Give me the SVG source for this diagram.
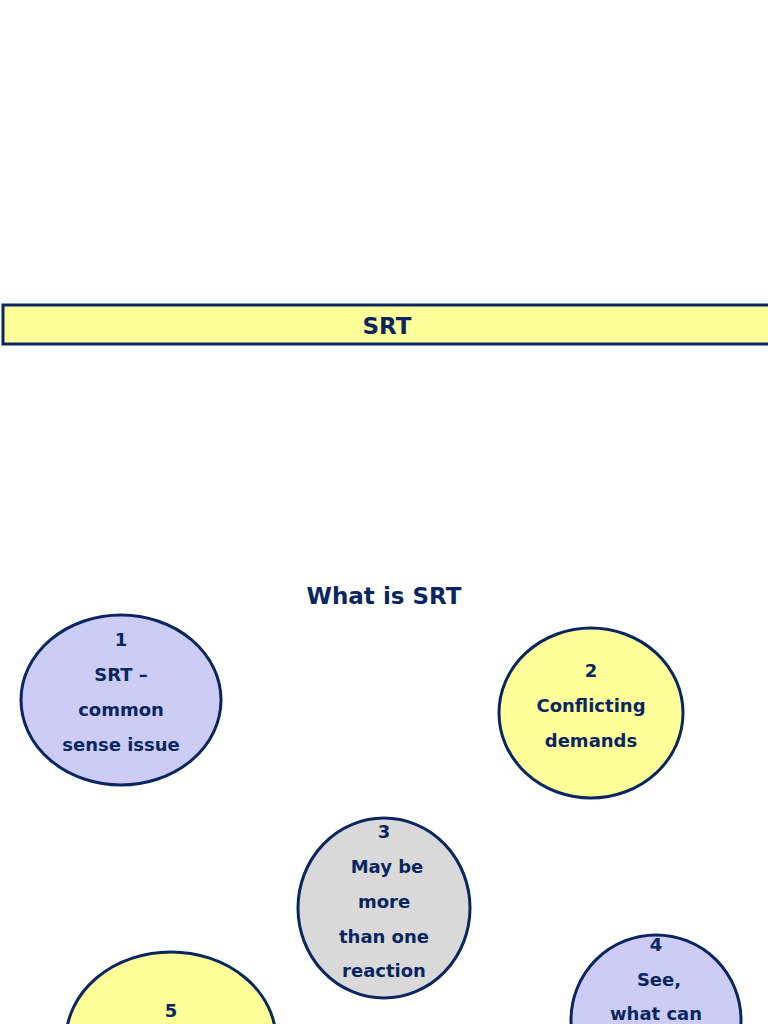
<svg xmlns="http://www.w3.org/2000/svg" width="768" height="1024" viewBox="0 0 768 1024">
<style>
.t{font-family:"DejaVu Sans",Verdana,sans-serif;font-weight:bold;fill:#0a2660;text-anchor:middle}
.n{font-size:18px}
.e{stroke:#0a2660;stroke-width:3}
</style>
<rect width="768" height="1024" fill="#fff"/>
<g id="header"><rect x="3" y="305" width="770" height="39" fill="#ffff99" stroke="#0a2660" stroke-width="3"/>
<text class="t" x="387" y="334" font-size="23">SRT</text></g>
<text class="t" x="384" y="604" font-size="23">What is SRT</text>
<g id="connectors"/>
<g id="n1"><ellipse class="e" cx="121" cy="700" rx="100" ry="85" fill="#ccccf5"/>
<text class="t n" x="121" y="646">1</text><text class="t n" x="121" y="681">SRT –</text><text class="t n" x="121" y="716">common</text><text class="t n" x="121" y="751">sense issue</text></g>
<g id="n2"><ellipse class="e" cx="591" cy="713" rx="92" ry="85" fill="#ffff99"/>
<text class="t n" x="591" y="677">2</text><text class="t n" x="591" y="712">Conflicting</text><text class="t n" x="591" y="747">demands</text></g>
<g id="n3"><ellipse class="e" cx="384" cy="908" rx="86" ry="90" fill="#d9d9d9"/>
<text class="t n" x="384" y="838">3</text><text class="t n" x="387" y="873">May be</text><text class="t n" x="384" y="908">more</text><text class="t n" x="384" y="943">than one</text><text class="t n" x="384" y="977">reaction</text></g>
<g id="n4"><ellipse class="e" cx="656" cy="1020" rx="85" ry="85" fill="#ccccf5"/>
<text class="t n" x="656" y="951">4</text><text class="t n" x="659" y="986">See,</text><text class="t n" x="656" y="1020">what can</text></g>
<g id="n5"><ellipse class="e" cx="171" cy="1040" rx="105" ry="88" fill="#ffff99"/>
<text class="t n" x="171" y="1017">5</text></g>
</svg>
